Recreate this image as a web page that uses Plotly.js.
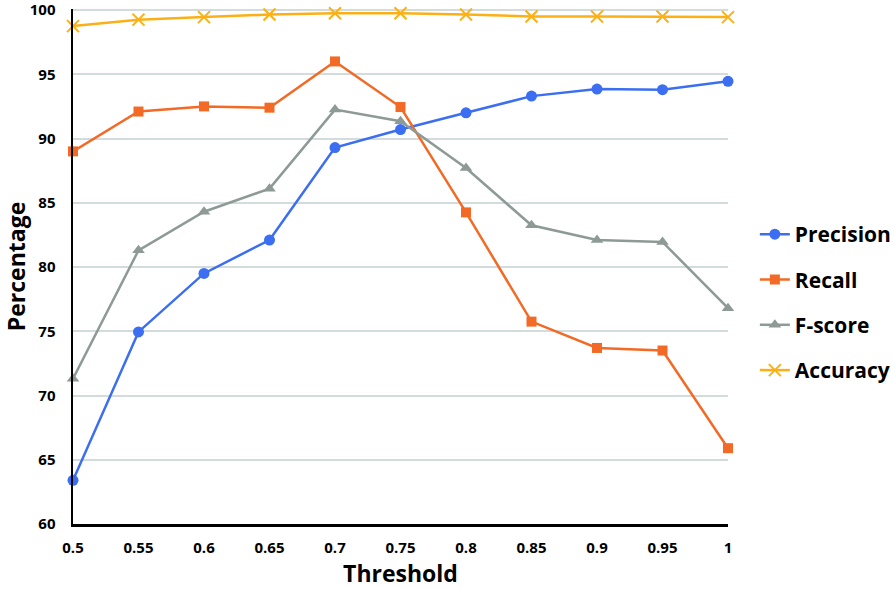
<!DOCTYPE html>
<html>
<head>
<meta charset="utf-8">
<script src="https://cdn.plot.ly/plotly-3.0.1.min.js"></script>
<style>html,body{margin:0;padding:0;background:#fff;}#chart{width:894px;height:589px;}</style>
</head>
<body>
<div id="chart"></div>
<script>
const thresholds = [0.5, 0.55, 0.6, 0.65, 0.7, 0.75, 0.8, 0.85, 0.9, 0.95, 1];
const xTickText = ["0.5", "0.55", "0.6", "0.65", "0.7", "0.75", "0.8", "0.85", "0.9", "0.95", "1"];
const precision = [63.4, 74.95, 79.5, 82.1, 89.3, 90.7, 92.0, 93.3, 93.85, 93.8, 94.45];
const recall = [89.0, 92.1, 92.5, 92.4, 96.0, 92.45, 84.25, 75.75, 73.7, 73.5, 65.9];
const fscore = [71.3, 81.3, 84.3, 86.1, 92.25, 91.35, 87.7, 83.25, 82.1, 81.95, 76.8];
const accuracy = [98.75, 99.25, 99.45, 99.65, 99.75, 99.75, 99.65, 99.5, 99.5, 99.5, 99.45];
const yTicks = [60, 65, 70, 75, 80, 85, 90, 95, 100];

const FONT = "'Open Sans', 'Liberation Sans', sans-serif";
function tr(name, y, color, symbol, size, group) {
  return {
    x: thresholds, y: y, name: name, type: 'scatter', mode: 'lines+markers',
    legendgroup: group, cliponaxis: false,
    line: {color: color, width: 2.5},
    marker: {color: color, symbol: symbol, size: size, line: {color: color, width: symbol.indexOf('x') === 0 ? 2 : 0}}
  };
}
const data = [
  tr('Precision', precision, '#3b6ef0', 'circle', 11, 'a'),
  tr('Recall', recall, '#f26a25', 'square', 10, 'b'),
  tr('F-score', fscore, '#8d9a95', 'triangle-up', 11, 'c'),
  tr('Accuracy', accuracy, '#fbb017', 'x-thin-open', 12, 'd')
];
const layout = {
  width: 894, height: 589,
  margin: {l: 73, r: 166, t: 9, b: 65, autoexpand: false},
  paper_bgcolor: '#fff', plot_bgcolor: '#fff',
  font: {family: FONT, color: '#000'},
  showlegend: true,
  legend: {
    x: 1.041, y: 0.43, xanchor: 'left', yanchor: 'middle',
    font: {family: FONT, size: 21, color: '#000', weight: 'bold'},
    traceorder: 'grouped', tracegroupgap: 15, itemwidth: 30
  },
  xaxis: {
    range: [0.5, 1], tickvals: thresholds, ticktext: xTickText,
    showgrid: false, zeroline: false,
    showline: true, linecolor: '#000', linewidth: 2.5,
    ticks: '', ticklabelstandoff: 8,
    tickfont: {family: FONT, size: 15, color: '#000', weight: 'bold'},
    title: {text: 'Threshold', font: {family: FONT, size: 23, color: '#000', weight: 'bold'}, standoff: 24}
  },
  yaxis: {
    range: [60, 100.08], tickvals: yTicks,
    showgrid: true, gridcolor: '#d3dcdc', gridwidth: 2,
    zeroline: false, showline: true, linecolor: '#000', linewidth: 2.5,
    ticks: '', ticklabelstandoff: 12, ticklabeloverflow: 'allow',
    tickfont: {family: FONT, size: 15, color: '#000', weight: 'bold'},
    title: {text: 'Percentage', font: {family: FONT, size: 23, color: '#000', weight: 'bold'}, standoff: 14}
  }
};
Plotly.newPlot('chart', data, layout, {displayModeBar: false, staticPlot: true});
</script>
</body>
</html>
